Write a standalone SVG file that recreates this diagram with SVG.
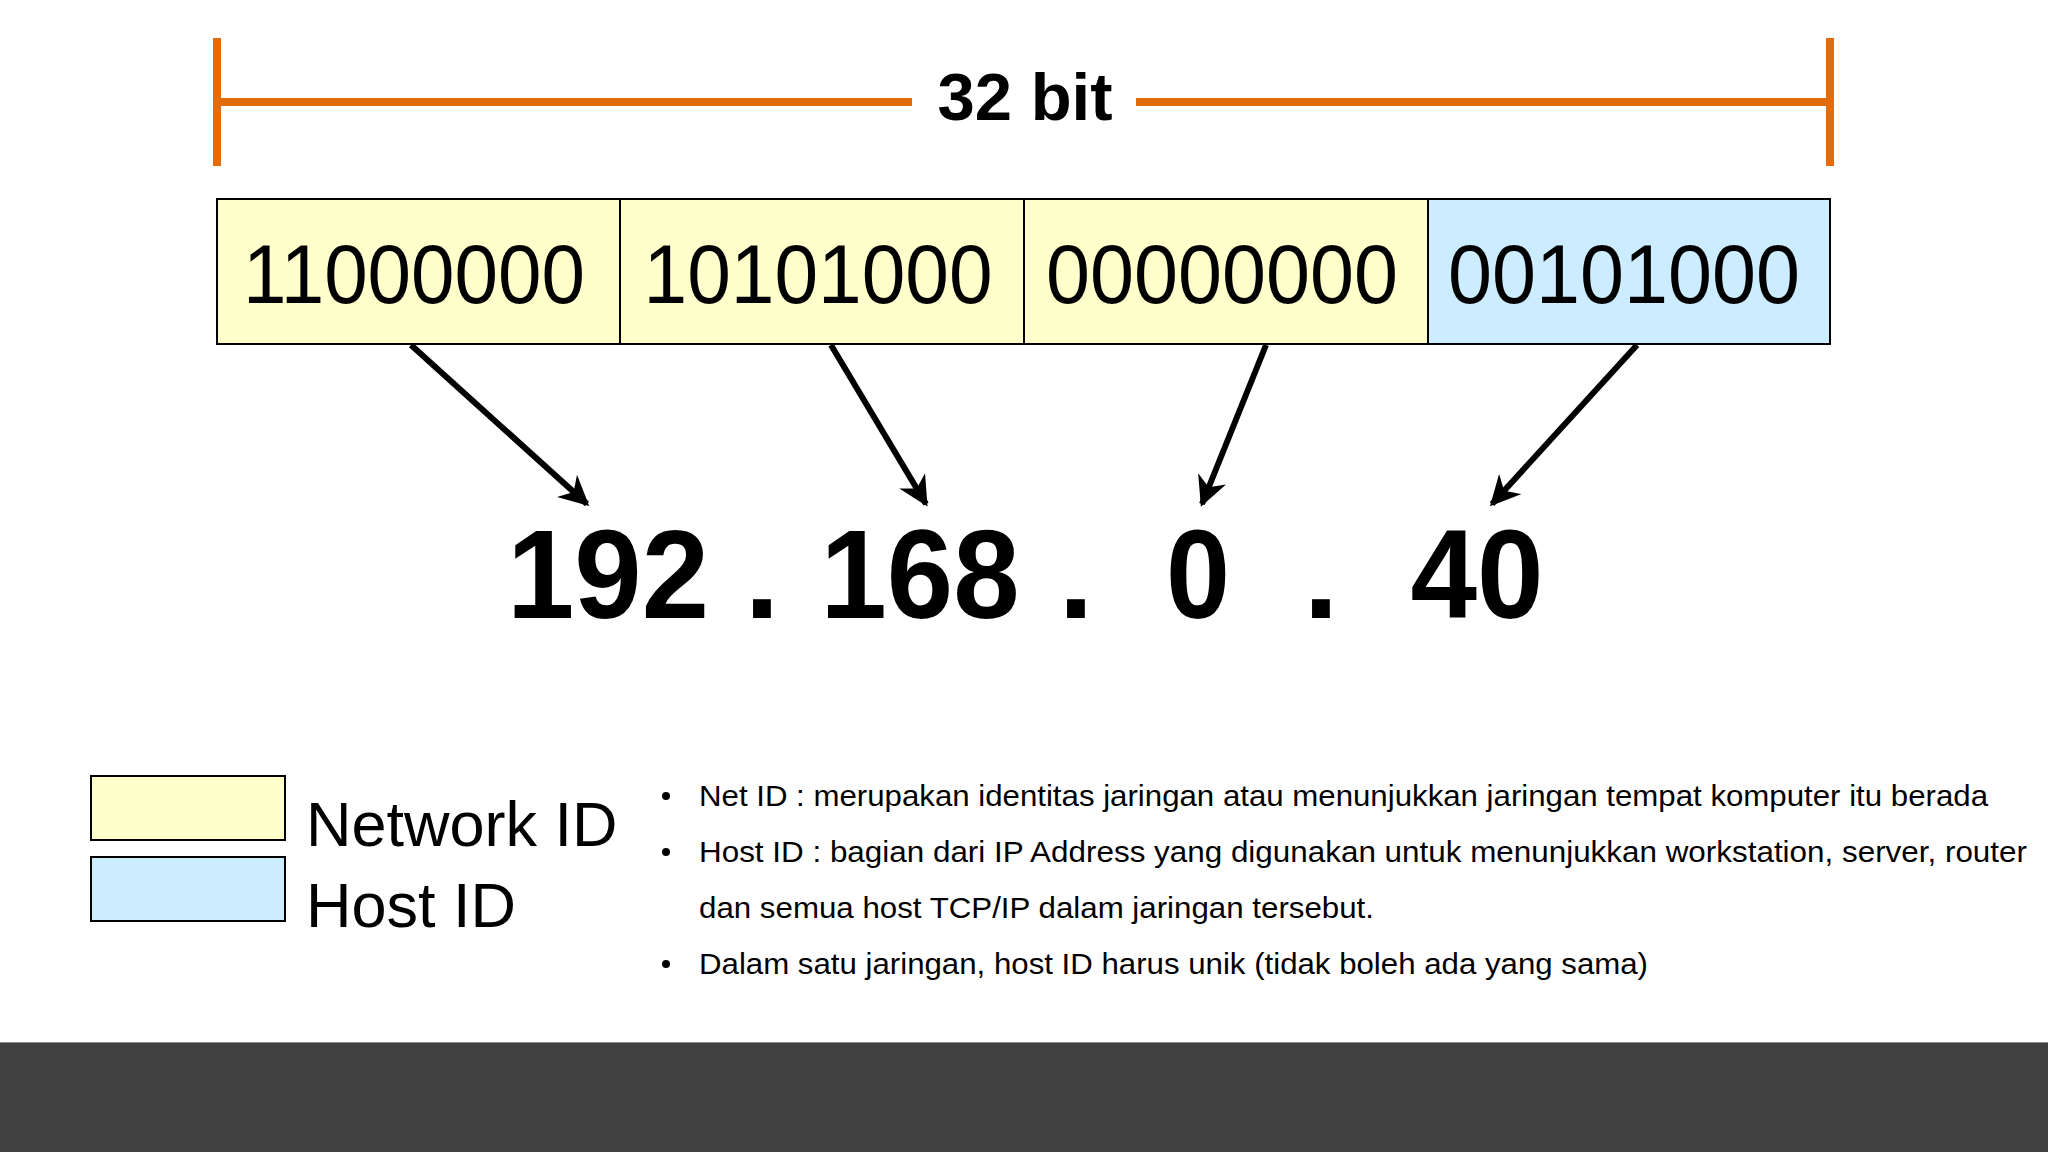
<svg xmlns="http://www.w3.org/2000/svg" width="2048" height="1152" viewBox="0 0 2048 1152">
<style>
.bar{stroke:#E36C0A;stroke-width:8;fill:none}
.net{fill:#FFFFCC;stroke:#000;stroke-width:2}
.host{fill:#CCECFF;stroke:#000;stroke-width:2}
.bin{font-family:"Liberation Sans",Arial,sans-serif;font-size:84px;fill:#000;text-anchor:middle}
.dec{font-family:"Liberation Sans",Arial,sans-serif;font-size:126px;font-weight:bold;fill:#000;text-anchor:middle}
.leg{font-family:"Liberation Sans",Arial,sans-serif;font-size:63px;fill:#000}
.txt{font-family:"Liberation Sans",Arial,sans-serif;font-size:29px;fill:#000}
.arr{stroke:#000;stroke-width:6;fill:none;marker-end:url(#ah)}
</style>
<defs>
<marker id="ah" viewBox="0 0 10 10" refX="9" refY="5" markerWidth="5" markerHeight="5" orient="auto" markerUnits="strokeWidth">
<path d="M0,0 L10,5 L0,10 L3,5 Z" fill="#000"/>
</marker>
</defs>
<rect width="2048" height="1152" fill="#fff"/>
<g id="bitwidth">
<line class="bar" x1="217" y1="38" x2="217" y2="166"/>
<line class="bar" x1="1830" y1="38" x2="1830" y2="166"/>
<line class="bar" x1="217" y1="102" x2="912" y2="102"/>
<line class="bar" x1="1136" y1="102" x2="1830" y2="102"/>
<text x="1025" y="120" font-family="Liberation Sans,Arial,sans-serif" font-size="67" font-weight="bold" text-anchor="middle">32 bit</text>
</g>
<g id="octet1"><rect class="net" x="217" y="199" width="403" height="145"/><text class="bin" x="414" y="303" textLength="342" lengthAdjust="spacingAndGlyphs">11000000</text></g>
<g id="octet2"><rect class="net" x="620" y="199" width="404" height="145"/><text class="bin" x="818" y="303" textLength="349" lengthAdjust="spacingAndGlyphs">10101000</text></g>
<g id="octet3"><rect class="net" x="1024" y="199" width="404" height="145"/><text class="bin" x="1222" y="303" textLength="352" lengthAdjust="spacingAndGlyphs">00000000</text></g>
<g id="octet4"><rect class="host" x="1428" y="199" width="402" height="145"/><text class="bin" x="1624" y="303" textLength="352" lengthAdjust="spacingAndGlyphs">00101000</text></g>
<g id="connectors">
<line class="arr" x1="411" y1="345" x2="587" y2="504"/>
<line class="arr" x1="831" y1="345" x2="926" y2="504"/>
<line class="arr" x1="1266" y1="345" x2="1202" y2="504"/>
<line class="arr" x1="1637" y1="345" x2="1492" y2="504"/>
</g>
<g id="decimal">
<text class="dec" x="608" y="618" textLength="202" lengthAdjust="spacingAndGlyphs">192</text>
<text class="dec" x="762" y="618">.</text>
<text class="dec" x="920" y="618" textLength="199" lengthAdjust="spacingAndGlyphs">168</text>
<text class="dec" x="1076" y="618">.</text>
<text class="dec" x="1198" y="618" textLength="64" lengthAdjust="spacingAndGlyphs">0</text>
<text class="dec" x="1321" y="618">.</text>
<text class="dec" x="1477" y="618" textLength="133" lengthAdjust="spacingAndGlyphs">40</text>
</g>
<g id="legend-network"><rect class="net" x="91" y="776" width="194" height="64"/><text class="leg" x="306" y="846">Network ID</text></g>
<g id="legend-host"><rect class="host" x="91" y="857" width="194" height="64"/><text class="leg" x="306" y="927">Host ID</text></g>
<g id="notes">
<circle cx="666" cy="796" r="4"/>
<text class="txt" x="699" y="806" textLength="1289" lengthAdjust="spacingAndGlyphs">Net ID : merupakan identitas jaringan atau menunjukkan jaringan tempat komputer itu berada</text>
<circle cx="666" cy="852" r="4"/>
<text class="txt" x="699" y="862" textLength="1328" lengthAdjust="spacingAndGlyphs">Host ID : bagian dari IP Address yang digunakan untuk menunjukkan workstation, server, router</text>
<text class="txt" x="699" y="918" textLength="675" lengthAdjust="spacingAndGlyphs">dan semua host TCP/IP dalam jaringan tersebut.</text>
<circle cx="666" cy="964" r="4"/>
<text class="txt" x="699" y="974" textLength="949" lengthAdjust="spacingAndGlyphs">Dalam satu jaringan, host ID harus unik (tidak boleh ada yang sama)</text>
</g>
<rect x="0" y="1042" width="2048" height="110" fill="#404040"/>
<line x1="0" y1="1042.5" x2="2048" y2="1042.5" stroke="#8a8a8a" stroke-width="1"/>
</svg>
